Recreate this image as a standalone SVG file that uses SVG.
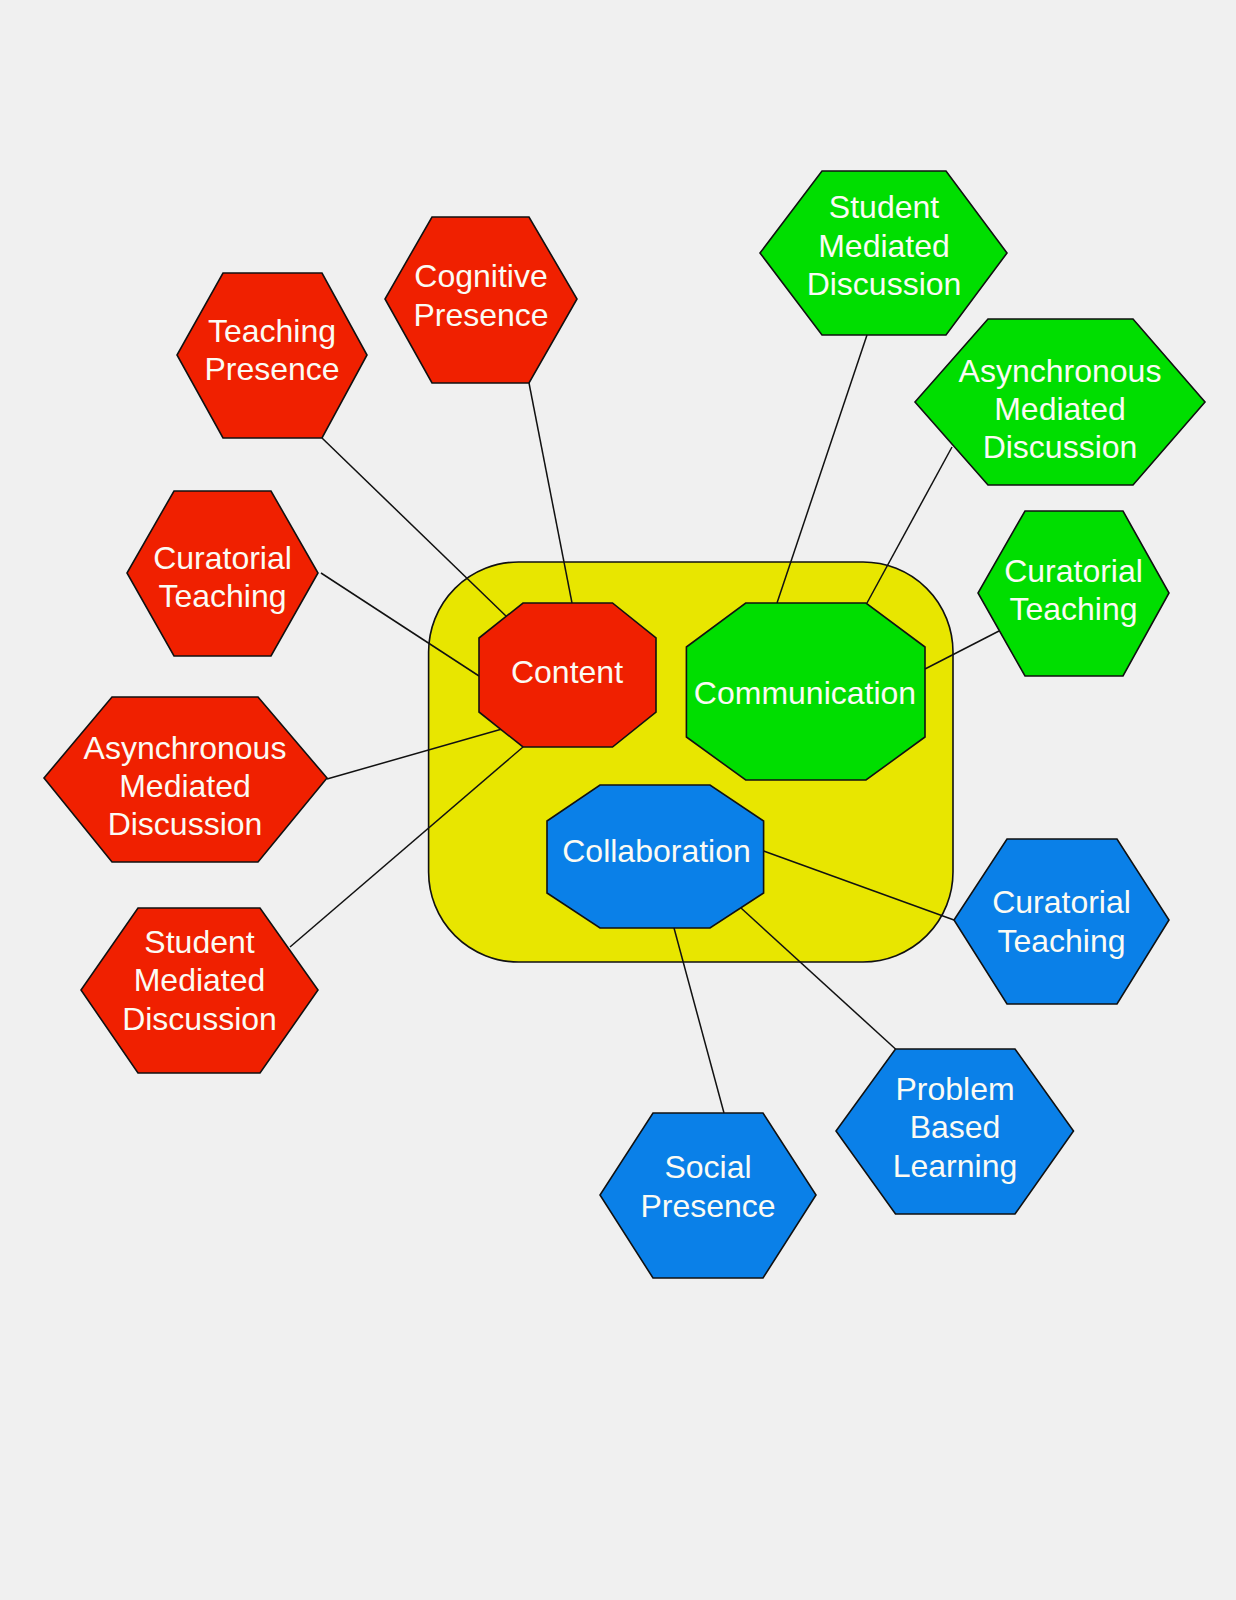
<svg xmlns="http://www.w3.org/2000/svg" width="1236" height="1600" viewBox="0 0 1236 1600">
<style>
.bg{fill:#f0f0f0}
.shape{stroke:#111;stroke-width:1.6;stroke-linejoin:miter}
.red{fill:#f02000}
.green{fill:#00de00}
.blue{fill:#0a80e8}
.yellow{fill:#e8e600}
.lbl{font-family:"Liberation Sans",Arial,Helvetica,sans-serif;font-size:32px;fill:#fbfbf4;text-anchor:middle}
.conn line{stroke:#111;stroke-width:1.5}
</style>
<rect class="bg" x="0" y="0" width="1236" height="1600"/>
<g id="container">
<rect class="shape yellow" x="428.6" y="562" width="524.4" height="400" rx="90" ry="90"/>
</g>
<g id="connectors" class="conn">
<line x1="322" y1="438" x2="507" y2="617"/>
<line x1="529" y1="383" x2="572" y2="603"/>
<line x1="321" y1="573" x2="479" y2="676"/>
<line x1="327" y1="779" x2="502" y2="729"/>
<line x1="290" y1="947" x2="523" y2="747"/>
<line x1="867" y1="335" x2="777" y2="603"/>
<line x1="952" y1="447" x2="867" y2="603"/>
<line x1="999" y1="631" x2="925" y2="669"/>
<line x1="763.6" y1="851" x2="954" y2="920"/>
<line x1="741" y1="908" x2="895.5" y2="1049"/>
<line x1="674" y1="928" x2="724" y2="1113"/>
</g>
<g id="content">
<polygon class="shape red" points="523,603 612.5,603 656,638 656,712 612.5,747 523,747 479,712 479,638"/>
<text class="lbl" x="567" y="683">Content</text>
</g>
<g id="communication">
<polygon class="shape green" points="745.7,603 866,603 925,647 925,737 866,780 745.7,780 686.4,737 686.4,647"/>
<text class="lbl" x="805" y="704">Communication</text>
</g>
<g id="collaboration">
<polygon class="shape blue" points="600,785 710,785 763.6,821 763.6,893 710,928 600,928 547,893 547,821"/>
<text class="lbl" x="656.5" y="862">Collaboration</text>
</g>
<g id="teaching-presence">
<polygon class="shape red" points="223,273 322,273 367,355 322,438 223,438 177,355"/>
<text class="lbl" x="272" y="342">Teaching</text>
<text class="lbl" x="272" y="380">Presence</text>
</g>
<g id="cognitive-presence">
<polygon class="shape red" points="432,217 529,217 577,299 529,383 432,383 385,299"/>
<text class="lbl" x="481" y="287">Cognitive</text>
<text class="lbl" x="481" y="326">Presence</text>
</g>
<g id="red-curatorial-teaching">
<polygon class="shape red" points="174,491 271,491 318,573 271,656 174,656 127,573"/>
<text class="lbl" x="222.5" y="569">Curatorial</text>
<text class="lbl" x="222.5" y="607">Teaching</text>
</g>
<g id="red-asynchronous">
<polygon class="shape red" points="112,697 258,697 327,778 258,862 112,862 44,778"/>
<text class="lbl" x="185" y="759">Asynchronous</text>
<text class="lbl" x="185" y="797">Mediated</text>
<text class="lbl" x="185" y="835">Discussion</text>
</g>
<g id="red-student-mediated">
<polygon class="shape red" points="138,908 260,908 318,990 260,1073 138,1073 81,990"/>
<text class="lbl" x="199.5" y="953">Student</text>
<text class="lbl" x="199.5" y="991">Mediated</text>
<text class="lbl" x="199.5" y="1030">Discussion</text>
</g>
<g id="green-student-mediated">
<polygon class="shape green" points="822,171 946,171 1007,253 946,335 822,335 760,253"/>
<text class="lbl" x="884" y="218">Student</text>
<text class="lbl" x="884" y="257">Mediated</text>
<text class="lbl" x="884" y="295">Discussion</text>
</g>
<g id="green-asynchronous">
<polygon class="shape green" points="988,319 1133,319 1205,402 1133,485 988,485 915,402"/>
<text class="lbl" x="1060" y="382">Asynchronous</text>
<text class="lbl" x="1060" y="420">Mediated</text>
<text class="lbl" x="1060" y="458">Discussion</text>
</g>
<g id="green-curatorial-teaching">
<polygon class="shape green" points="1025,511 1123,511 1169,593 1123,676 1025,676 978,593"/>
<text class="lbl" x="1073.5" y="582">Curatorial</text>
<text class="lbl" x="1073.5" y="620">Teaching</text>
</g>
<g id="blue-curatorial-teaching">
<polygon class="shape blue" points="1007,839 1117,839 1169,920 1117,1004 1007,1004 954,920"/>
<text class="lbl" x="1061.5" y="913">Curatorial</text>
<text class="lbl" x="1061.5" y="952">Teaching</text>
</g>
<g id="problem-based-learning">
<polygon class="shape blue" points="895.5,1049 1015,1049 1073.5,1131 1015,1214 895.5,1214 836,1131"/>
<text class="lbl" x="955" y="1100">Problem</text>
<text class="lbl" x="955" y="1138">Based</text>
<text class="lbl" x="955" y="1177">Learning</text>
</g>
<g id="social-presence">
<polygon class="shape blue" points="653,1113 763,1113 816,1195 763,1278 653,1278 600,1195"/>
<text class="lbl" x="708" y="1178">Social</text>
<text class="lbl" x="708" y="1217">Presence</text>
</g>
</svg>
